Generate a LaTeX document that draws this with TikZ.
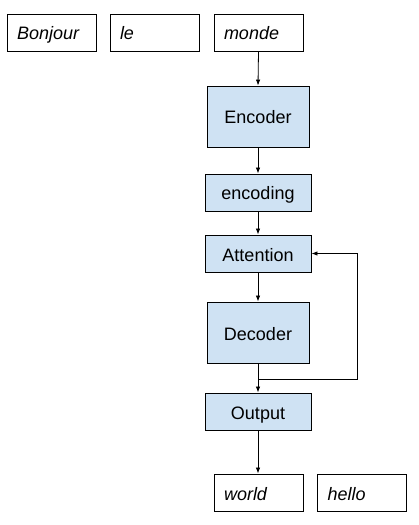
\documentclass[tikz,border=0pt]{standalone}
\usepackage{fontspec}
\setmainfont{Liberation Sans}
\usepackage{tikz}
\usetikzlibrary{arrows.meta}
\definecolor{lightblue}{HTML}{CFE2F3}

\begin{document}
\begin{tikzpicture}[x=1bp,y=-1bp,
		word/.style={draw,line width=0.9bp,minimum height=37bp,text width=69bp,inner xsep=10bp,align=left,text height=16bp,text depth=1bp,font=\fontsize{18bp}{21bp}\selectfont\itshape},
		block/.style={draw,line width=0.9bp,fill=lightblue,text height=16bp,text depth=1bp,font=\fontsize{18bp}{21bp}\selectfont},
		arr/.style={line width=0.8bp,-{Latex[length=6bp,width=4.5bp]}}]
		\useasboundingbox (0,0) rectangle (418,525);
		% input words
		\node[word] (bonjour) at (51.5,32.5) {Bonjour};
		\node[word] (le) at (154.5,32.5) {le};
		\node[word] (monde) at (258.5,32.5) {monde};
		% model
		\node[block,minimum width=102bp,minimum height=61bp] (enc) at (258,116.5) {Encoder};
		\node[block,minimum width=106bp,minimum height=37bp] (encoding) at (258,192.5) {encoding};
		\node[block,minimum width=106bp,minimum height=37bp] (att) at (258,253.5) {Attention};
		\node[block,minimum width=102bp,minimum height=61bp] (dec) at (258,332.5) {Decoder};
		\node[block,minimum width=106bp,minimum height=37bp] (out) at (258,411.5) {Output};
		% output words
		\node[word] (world) at (258.5,492.5) {world};
		\node[word] (hello) at (362,492.5) {hello};
		\draw[arr] (monde.south) -- (enc.north);
		\draw[arr] (enc) -- (encoding);
		\draw[arr] (encoding) -- (att);
		\draw[arr] (att) -- (dec);
		\draw[arr] (dec) -- (out);
		\draw[arr] (out.south) -- (world.north -| out.south);
		% feedback loop
		\coordinate (branch) at (258,379);
		\coordinate (loop) at (357,379);
		\draw[arr] (branch) -- (loop) |- (att.east);
\end{tikzpicture}
\end{document}
